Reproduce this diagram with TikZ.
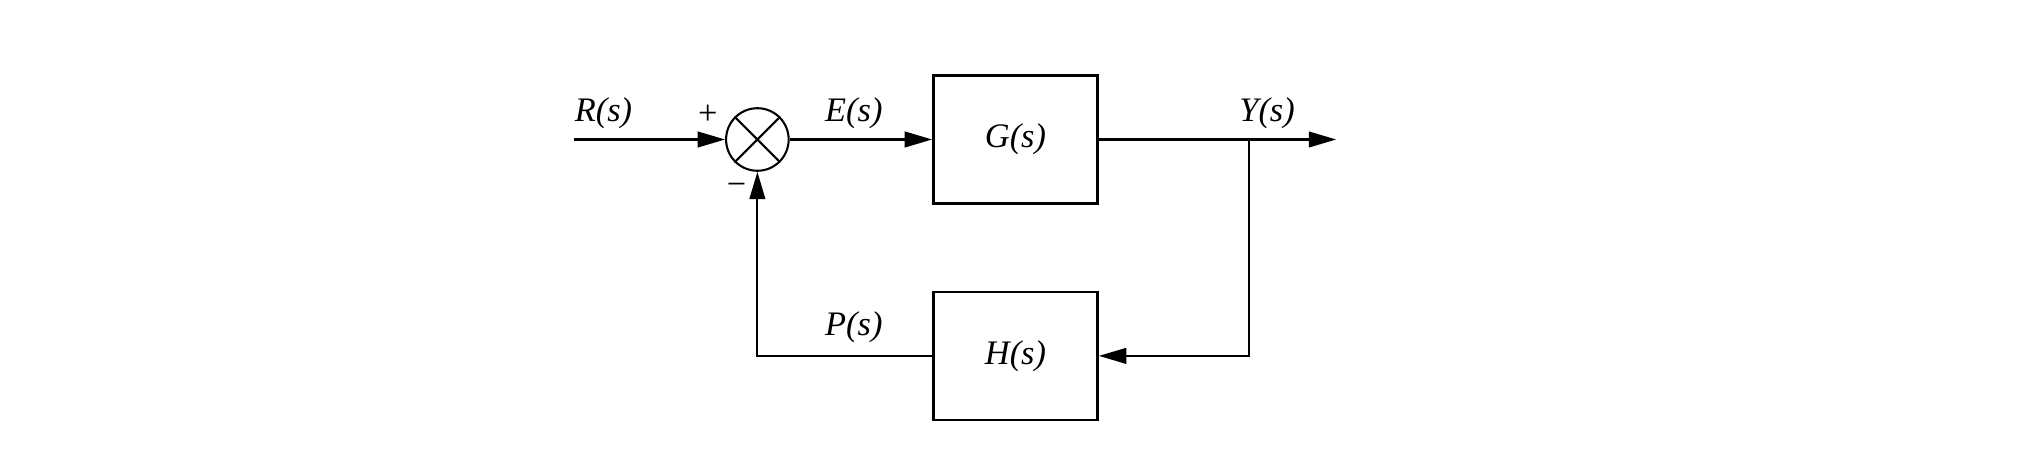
\documentclass[tikz,border=0pt]{standalone}
\usepackage{fontspec}
\setmainfont{Liberation Serif}
\usetikzlibrary{arrows.meta}
\begin{document}
\begin{tikzpicture}[
  line width=0.9pt,
  blk/.style={draw,minimum width=2.52cm,minimum height=1.96cm,inner sep=0pt,line width=1.1pt},
  sig/.style={-{Triangle[length=0.42cm,width=0.24cm]}},
  lbl/.style={font=\fontsize{15}{18}\selectfont\itshape},
  sgn/.style={font=\fontsize{15}{18}\selectfont}
]
\useasboundingbox (0,0) rectangle (31.36,7.0);
\node[draw,circle,minimum size=0.96cm,inner sep=0pt] (sum) at (11.62,4.86) {};
\draw (sum.north west) -- (sum.south east) (sum.north east) -- (sum.south west);
\node[blk] (G) at (15.58,4.86) {};
\node[lbl] at (G) {G(s)};
\node[blk] (H) at (15.58,1.54) {};
\node[lbl] at (H) {H(s)};
\coordinate (in) at (8.8,4.86);
\coordinate (out) at (20.5,4.86);
\coordinate (br) at (19.16,4.86);
\coordinate (brd) at (19.16,1.54);
\coordinate (fb) at (11.62,1.54);
\draw[sig] (in) -- (sum.west);
\draw[sig] (sum.east) -- (G.west);
\draw[sig] (G.east) -- (out);
\draw[sig] (br) -- (brd) -- (H.east);
\draw[sig] (H.west) -- (fb) -- (sum.south);
\node[lbl] (R) at (9.26,5.26) {R(s)};
\node[lbl] (E) at (13.1,5.26) {E(s)};
\node[lbl] (Y) at (19.44,5.26) {Y(s)};
\node[lbl] (P) at (13.1,1.98) {P(s)};
\node[sgn] (plus) at (10.86,5.24) {+};
\node[sgn] (minus) at (11.3,4.1) {−};
\end{tikzpicture}
\end{document}
